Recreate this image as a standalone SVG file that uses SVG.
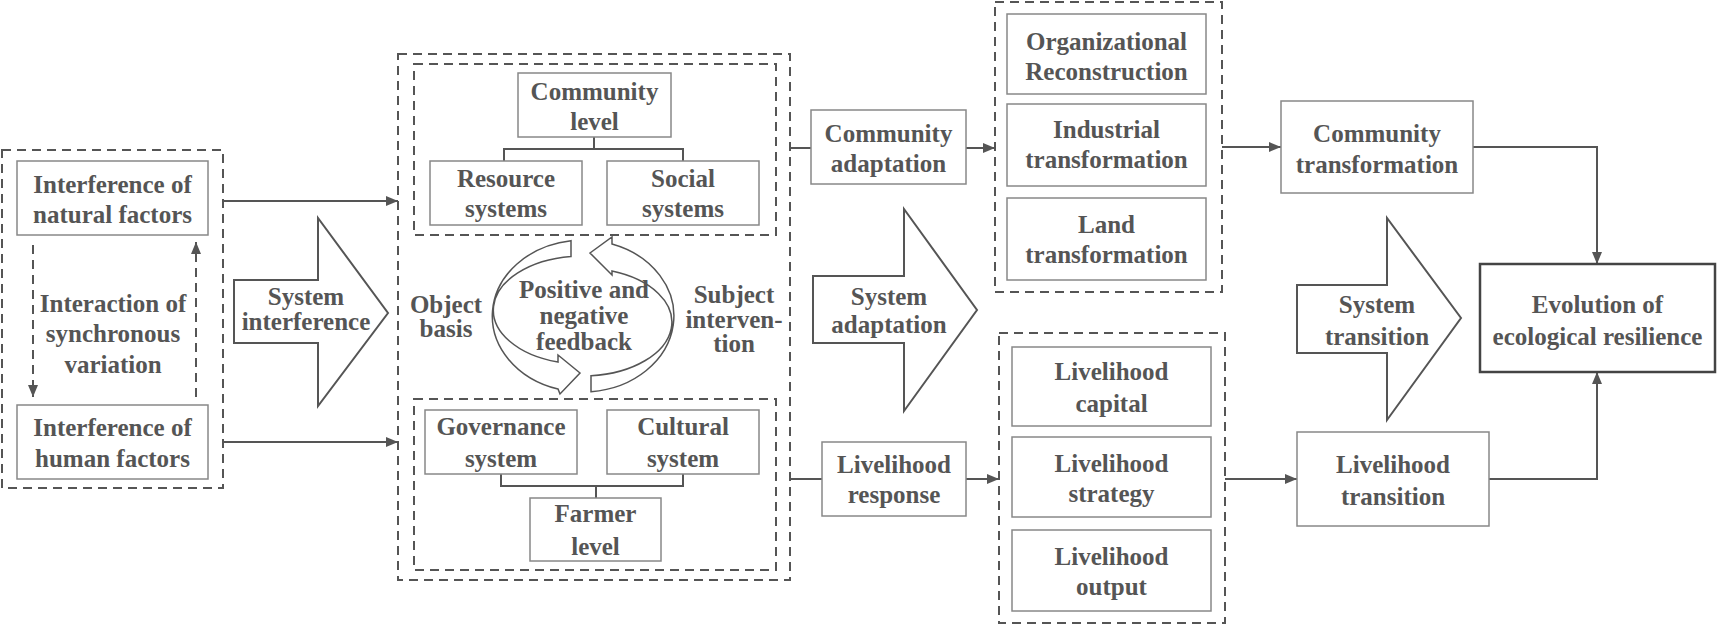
<svg xmlns="http://www.w3.org/2000/svg" width="1717" height="625" viewBox="0 0 1717 625">
<defs>
<style>
.t{font-family:'Liberation Serif',Tinos,'Times New Roman','DejaVu Serif',serif;font-weight:700;font-size:25px;fill:#555;text-anchor:middle}
.b{fill:#fff;stroke:#888;stroke-width:1.5}
.d{fill:none;stroke:#555;stroke-width:2;stroke-dasharray:9 6}
.c{fill:none;stroke:#555;stroke-width:2}
.big{fill:#fff;stroke:#555;stroke-width:2}
.fb{fill:#fff;stroke:#555;stroke-width:1.5}
</style>
<marker id="ah" markerUnits="userSpaceOnUse" markerWidth="13" markerHeight="11" refX="12" refY="5" orient="auto">
<path d="M0,0 L12,5 L0,10 Z" fill="#555"/>
</marker>
</defs>
<rect width="1717" height="625" fill="#fff"/>

<g id="groups">
<rect class="d" x="2" y="150" width="221" height="338"/>
<rect class="d" x="398" y="54" width="392" height="526"/>
<rect class="d" x="414" y="64" width="362" height="171"/>
<rect class="d" x="414" y="399" width="362" height="171"/>
<rect class="d" x="995" y="2" width="227" height="290"/>
<rect class="d" x="999" y="333" width="226" height="290"/>
</g>

<g id="connectors">
<line class="c" x1="223" y1="201" x2="398" y2="201" marker-end="url(#ah)"/>
<line class="c" x1="223" y1="442" x2="398" y2="442" marker-end="url(#ah)"/>
<line class="d" x1="33" y1="245" x2="33" y2="397" marker-end="url(#ah)"/>
<line class="d" x1="196" y1="397" x2="196" y2="242" marker-end="url(#ah)"/>
<path class="c" d="M594,137 V149 M504,161 V149 H683 V161"/>
<path class="c" d="M501,474 V486 H683 V474 M596,486 V498"/>
<line class="c" x1="790" y1="148" x2="811" y2="148"/>
<line class="c" x1="966" y1="148" x2="995" y2="148" marker-end="url(#ah)"/>
<line class="c" x1="790" y1="479" x2="822" y2="479"/>
<line class="c" x1="966" y1="479" x2="999" y2="479" marker-end="url(#ah)"/>
<line class="c" x1="1222" y1="147" x2="1281" y2="147" marker-end="url(#ah)"/>
<line class="c" x1="1225" y1="479" x2="1297" y2="479" marker-end="url(#ah)"/>
<path class="c" d="M1473,147 H1597 V264" marker-end="url(#ah)"/>
<path class="c" d="M1489,479 H1597 V372" marker-end="url(#ah)"/>
</g>

<g id="system-interference">
<path class="big" d="M234,280 L318,280 L318,218 L388,313 L318,406 L318,343 L234,343 Z"/>
<text class="t" x="306" y="305">System</text>
<text class="t" x="306" y="330">interference</text>
</g>
<g id="system-adaptation">
<path class="big" d="M813,276 L904,276 L904,209 L977,310 L904,411 L904,343 L813,343 Z"/>
<text class="t" x="889" y="305">System</text>
<text class="t" x="889" y="333">adaptation</text>
</g>
<g id="system-transition">
<path class="big" d="M1297,285 L1387,285 L1387,218 L1461,318 L1387,420 L1387,353 L1297,353 Z"/>
<text class="t" x="1377" y="313">System</text>
<text class="t" x="1377" y="345">transition</text>
</g>

<g id="feedback">
<path class="fb" d="M571,240.7 A91,76 0 0 0 558,389 L560,394 L580,373 L558,355 L558,362 A89,54 0 0 1 571,256.5 Z"/>
<path class="fb" d="M591,391.7 A91,76 0 0 0 612,244 L612,237 L590,253 L612,275 L612,271 A89,54 0 0 1 591,375.8 Z"/>
<text class="t" x="584" y="298">Positive and</text>
<text class="t" x="584" y="324">negative</text>
<text class="t" x="584" y="350">feedback</text>
</g>
<g id="object-basis">
<text class="t" x="446" y="313">Object</text>
<text class="t" x="446" y="337">basis</text>
</g>
<g id="subject-intervention">
<text class="t" x="734" y="303">Subject</text>
<text class="t" x="734" y="328">interven-</text>
<text class="t" x="734" y="352">tion</text>
</g>

<g id="natural-factors">
<rect class="b" x="17" y="161" width="191" height="74"/>
<text class="t" x="112.5" y="193">Interference of</text>
<text class="t" x="112.5" y="223">natural factors</text>
</g>
<g id="human-factors">
<rect class="b" x="17" y="405" width="191" height="74"/>
<text class="t" x="112.5" y="436">Interference of</text>
<text class="t" x="112.5" y="467">human factors</text>
</g>
<g id="interaction">
<text class="t" x="113" y="312">Interaction of</text>
<text class="t" x="113" y="342">synchronous</text>
<text class="t" x="113" y="373">variation</text>
</g>

<g id="community-level">
<rect class="b" x="518" y="73" width="153" height="64"/>
<text class="t" x="594.5" y="100">Community</text>
<text class="t" x="594.5" y="130">level</text>
</g>
<g id="resource-systems">
<rect class="b" x="430" y="161" width="152" height="64"/>
<text class="t" x="506" y="187">Resource</text>
<text class="t" x="506" y="217">systems</text>
</g>
<g id="social-systems">
<rect class="b" x="607" y="161" width="152" height="64"/>
<text class="t" x="683" y="187">Social</text>
<text class="t" x="683" y="217">systems</text>
</g>
<g id="governance-system">
<rect class="b" x="425" y="410" width="152" height="64"/>
<text class="t" x="501" y="435">Governance</text>
<text class="t" x="501" y="467">system</text>
</g>
<g id="cultural-system">
<rect class="b" x="607" y="410" width="152" height="64"/>
<text class="t" x="683" y="435">Cultural</text>
<text class="t" x="683" y="467">system</text>
</g>
<g id="farmer-level">
<rect class="b" x="530" y="498" width="131" height="63"/>
<text class="t" x="595.5" y="522">Farmer</text>
<text class="t" x="595.5" y="555">level</text>
</g>

<g id="community-adaptation">
<rect class="b" x="811" y="110" width="155" height="74"/>
<text class="t" x="888.5" y="142">Community</text>
<text class="t" x="888.5" y="172">adaptation</text>
</g>
<g id="livelihood-response">
<rect class="b" x="822" y="442" width="144" height="74"/>
<text class="t" x="894" y="473">Livelihood</text>
<text class="t" x="894" y="503">response</text>
</g>

<g id="organizational-reconstruction">
<rect class="b" x="1007" y="14" width="199" height="80"/>
<text class="t" x="1106.5" y="50">Organizational</text>
<text class="t" x="1106.5" y="80">Reconstruction</text>
</g>
<g id="industrial-transformation">
<rect class="b" x="1007" y="104" width="199" height="82"/>
<text class="t" x="1106.5" y="138">Industrial</text>
<text class="t" x="1106.5" y="168">transformation</text>
</g>
<g id="land-transformation">
<rect class="b" x="1007" y="198" width="199" height="82"/>
<text class="t" x="1106.5" y="233">Land</text>
<text class="t" x="1106.5" y="263">transformation</text>
</g>

<g id="livelihood-capital">
<rect class="b" x="1012" y="347" width="199" height="79"/>
<text class="t" x="1111.5" y="380">Livelihood</text>
<text class="t" x="1111.5" y="412">capital</text>
</g>
<g id="livelihood-strategy">
<rect class="b" x="1012" y="437" width="199" height="80"/>
<text class="t" x="1111.5" y="472">Livelihood</text>
<text class="t" x="1111.5" y="502">strategy</text>
</g>
<g id="livelihood-output">
<rect class="b" x="1012" y="530" width="199" height="81"/>
<text class="t" x="1111.5" y="565">Livelihood</text>
<text class="t" x="1111.5" y="595">output</text>
</g>

<g id="community-transformation">
<rect class="b" x="1281" y="101" width="192" height="92"/>
<text class="t" x="1377" y="142">Community</text>
<text class="t" x="1377" y="173">transformation</text>
</g>
<g id="livelihood-transition">
<rect class="b" x="1297" y="432" width="192" height="94"/>
<text class="t" x="1393" y="473">Livelihood</text>
<text class="t" x="1393" y="505">transition</text>
</g>
<g id="evolution">
<rect x="1480" y="264" width="235" height="108" fill="#fff" stroke="#444" stroke-width="2.5"/>
<text class="t" x="1597.5" y="313">Evolution of</text>
<text class="t" x="1597.5" y="345">ecological resilience</text>
</g>
</svg>
